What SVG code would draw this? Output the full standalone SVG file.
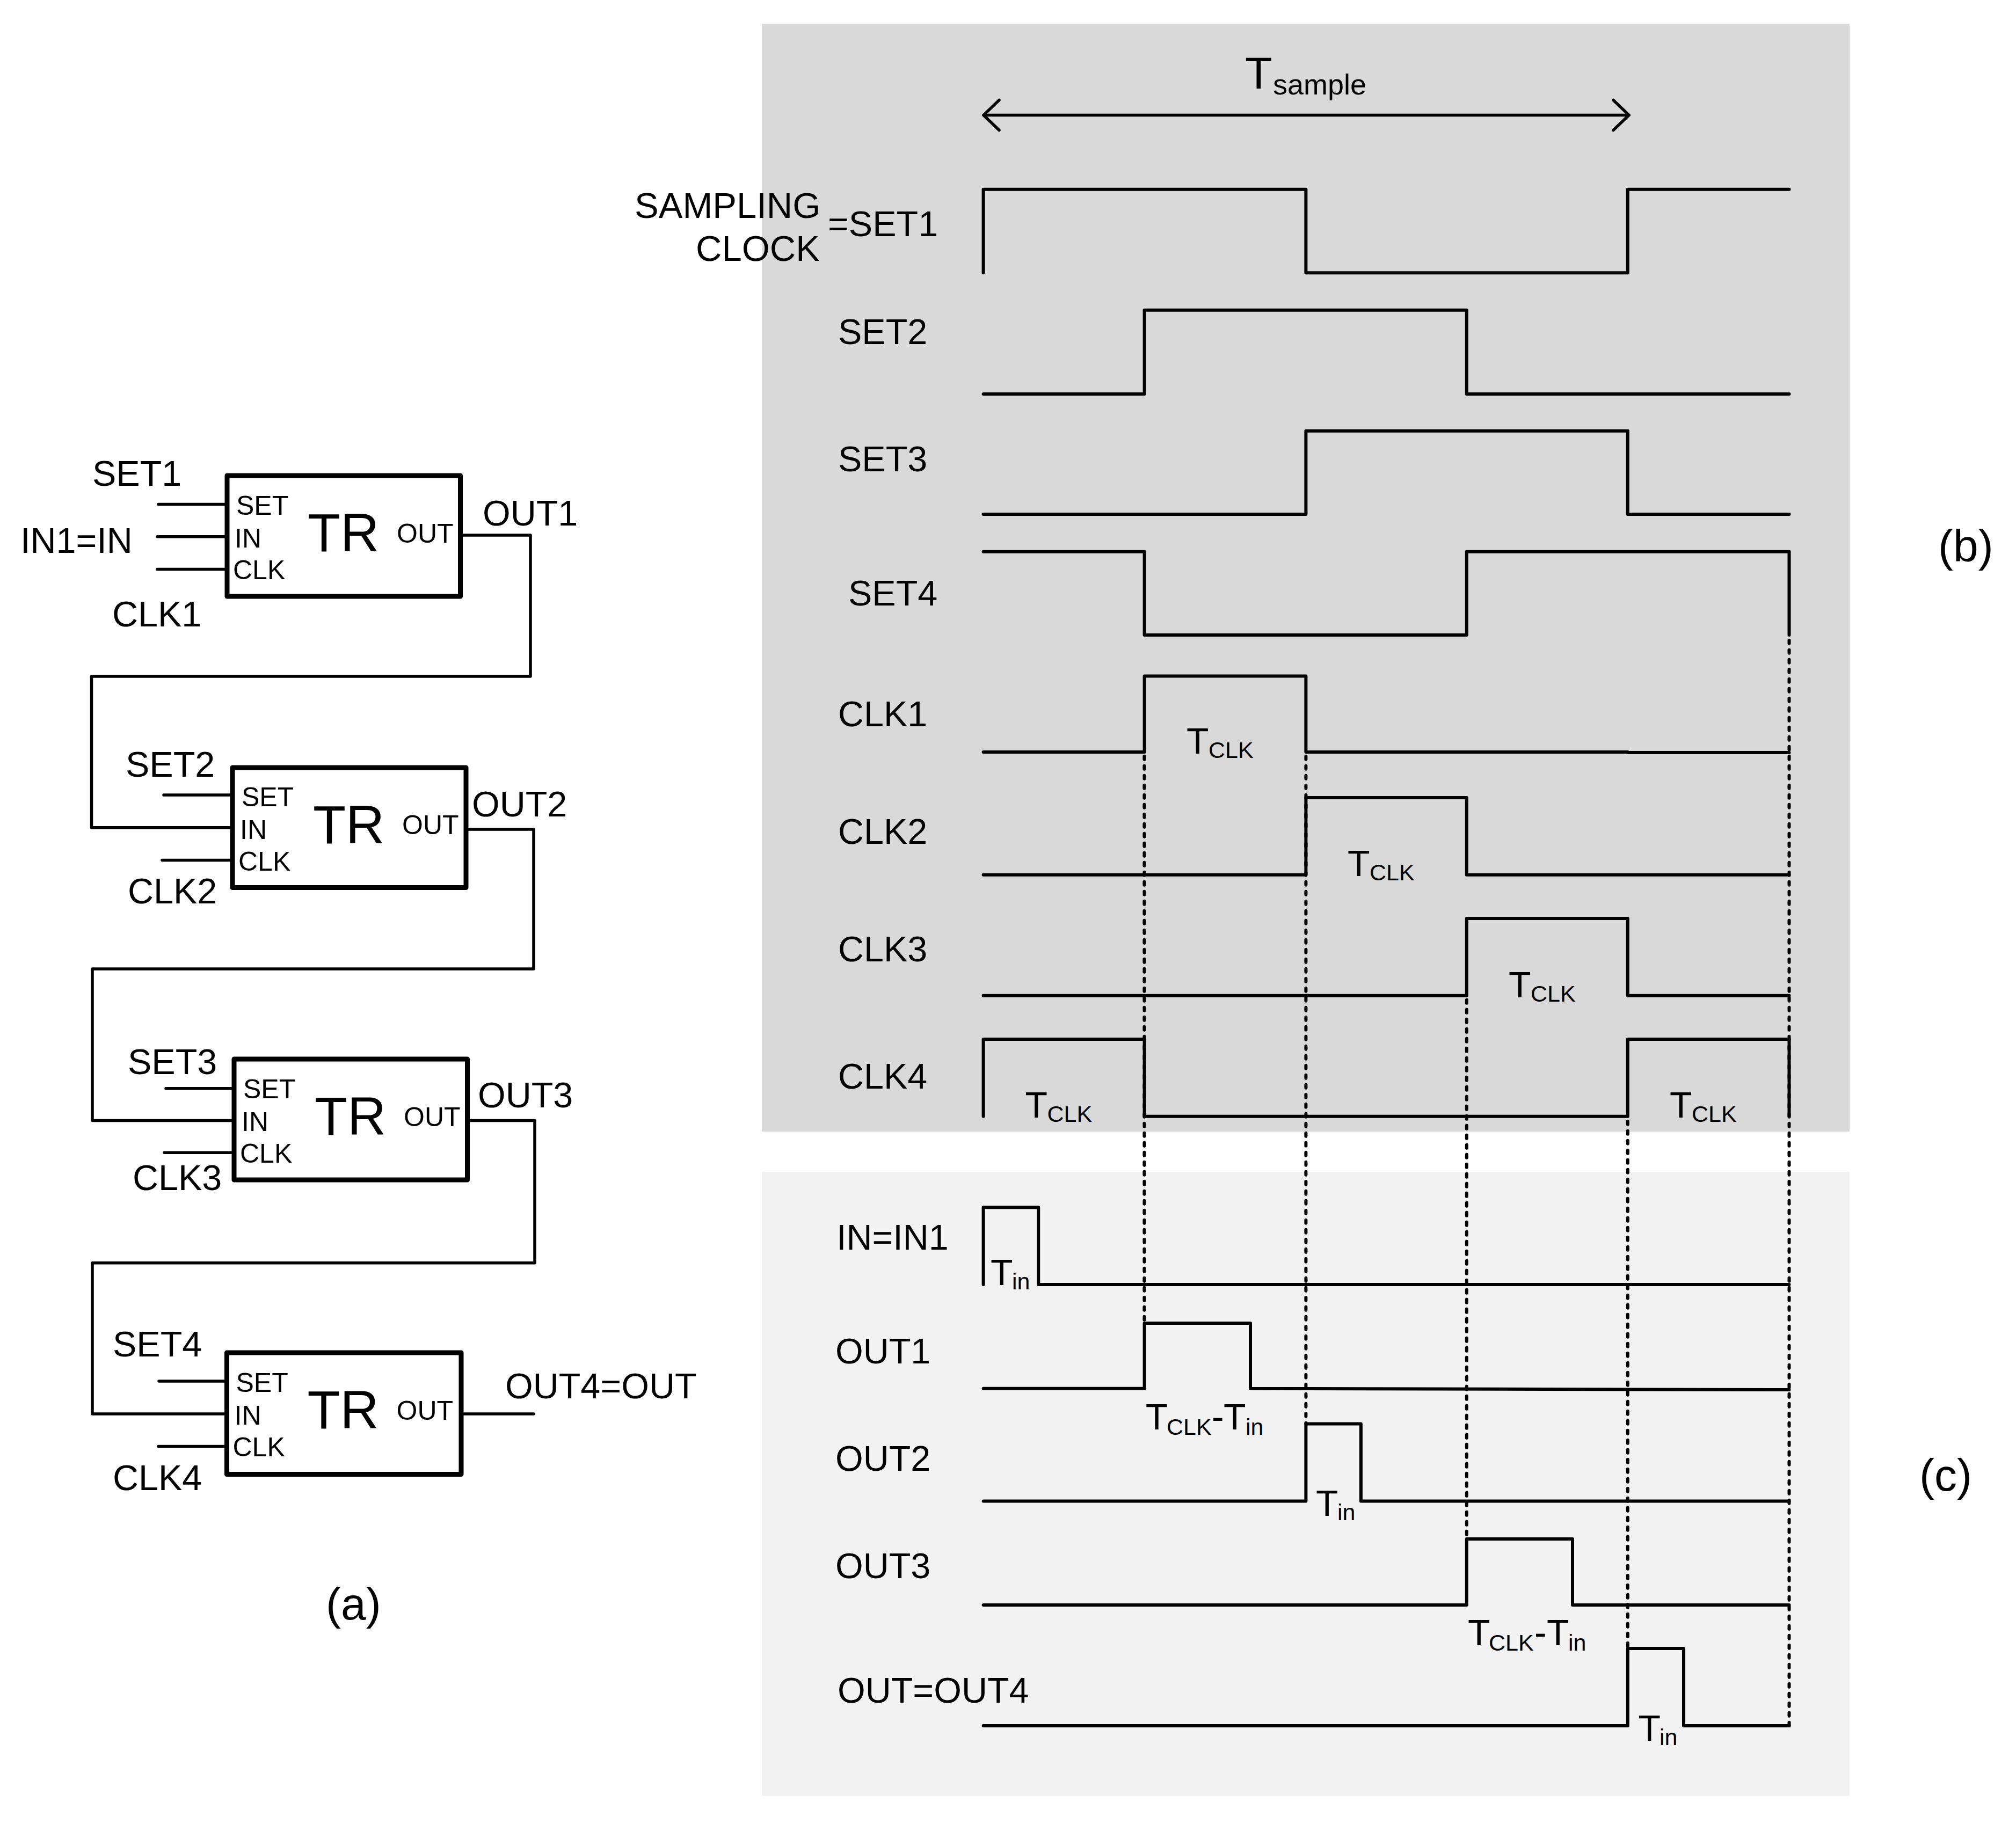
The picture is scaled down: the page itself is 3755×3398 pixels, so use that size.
<svg xmlns="http://www.w3.org/2000/svg" width="3755" height="3398" viewBox="0 0 3755 3398">
<style>
text{font-family:"Liberation Sans",Arial,sans-serif;fill:#000}
.l{font-size:66.5px}
.t{font-size:100px}
.p{font-size:50px}
.big{font-size:68px}
.sub{font-size:43px}
.cap{font-size:84px}
.box{fill:none;stroke:#000;stroke-width:9;stroke-linejoin:round}
.w{fill:none;stroke:#000;stroke-width:5.5;stroke-linecap:round;stroke-linejoin:round}
.s{fill:none;stroke:#000;stroke-width:6;stroke-linecap:round;stroke-linejoin:round}
.d{fill:none;stroke:#000;stroke-width:6;stroke-dasharray:6 12;stroke-linecap:round}
</style>
<defs>
<marker id="chev" markerUnits="userSpaceOnUse" viewBox="-40 -40 50 80" refX="0" refY="0" markerWidth="50" markerHeight="80" orient="auto-start-reverse" overflow="visible"><path d="M-29,-28 L0,0 L-29,28" fill="none" stroke="#000" stroke-width="5.5" stroke-linecap="round" stroke-linejoin="round"/></marker>
</defs>
<rect id="panel-b" x="1419" y="44.5" width="2026" height="2063.5" fill="#d9d9d9"/>
<rect id="panel-c" x="1419" y="2183" width="2026" height="1163" fill="#f2f2f2"/>

<g id="connectors">
<polyline class="w" points="857,997 988,997 988,1260 170.5,1260 170.5,1541.7 433,1541.7"/>
<polyline class="w" points="868,1545 994,1545 994,1805 172,1805 172,2087.5 436,2087.5"/>
<polyline class="w" points="870,2087.5 996,2087.5 996,2352.7 172,2352.7 172,2634 422,2634"/>
<line class="w" x1="859" y1="2634" x2="994" y2="2634"/>
<line class="w" x1="295" y1="939.5" x2="423" y2="939.5"/>
<line class="w" x1="293" y1="999.8" x2="423" y2="999.8"/>
<line class="w" x1="293" y1="1060.6" x2="423" y2="1060.6"/>
<line class="w" x1="305" y1="1481" x2="433" y2="1481"/>
<line class="w" x1="302" y1="1602.5" x2="433" y2="1602.5"/>
<line class="w" x1="309" y1="2027.7" x2="436" y2="2027.7"/>
<line class="w" x1="306" y1="2147.3" x2="436" y2="2147.3"/>
<line class="w" x1="296" y1="2573" x2="422" y2="2573"/>
<line class="w" x1="295" y1="2694.6" x2="422" y2="2694.6"/>
<line class="w" x1="1832" y1="214.5" x2="3034" y2="214.5" marker-start="url(#chev)" marker-end="url(#chev)"/>
<line class="d" x1="2131.4" y1="1408.7" x2="2131.4" y2="2465"/>
<line class="d" x1="2432.4" y1="1408.7" x2="2432.4" y2="2652.6"/>
<line class="d" x1="2731.8" y1="1862.7" x2="2731.8" y2="2866.9"/>
<line class="d" x1="3031.8" y1="2088.7" x2="3031.8" y2="3071"/>
<line class="d" x1="3332.5" y1="1192.7" x2="3332.5" y2="3215"/>
</g>

<g id="tr1" transform="translate(423,886)">
<rect class="box" width="434.5" height="225"/>
<text class="p" x="17" y="73">SET</text><text class="p" x="14" y="134">IN</text><text class="p" x="11" y="193">CLK</text><text class="p" x="316" y="125">OUT</text><text class="t" x="150" y="141">TR</text>
</g>
<g id="tr2" transform="translate(433,1430)">
<rect class="box" width="435" height="223.6"/>
<text class="p" x="17" y="72">SET</text><text class="p" x="14" y="133">IN</text><text class="p" x="11" y="192">CLK</text><text class="p" x="316" y="124">OUT</text><text class="t" x="150" y="141">TR</text>
</g>
<g id="tr3" transform="translate(436,1973)">
<rect class="box" width="434.5" height="225"/>
<text class="p" x="17" y="73">SET</text><text class="p" x="14" y="134">IN</text><text class="p" x="11" y="193">CLK</text><text class="p" x="316" y="125">OUT</text><text class="t" x="150" y="141">TR</text>
</g>
<g id="tr4" transform="translate(422.5,2520)">
<rect class="box" width="436.5" height="226.5"/>
<text class="p" x="17" y="73">SET</text><text class="p" x="14" y="134">IN</text><text class="p" x="11" y="193">CLK</text><text class="p" x="316" y="125">OUT</text><text class="t" x="150" y="141">TR</text>
</g>

<g id="labels-a">
<text class="l" x="172" y="904.5">SET1</text>
<text class="l" x="38" y="1029.6">IN1=IN</text>
<text class="l" x="209" y="1167.4">CLK1</text>
<text class="l" x="899" y="979">OUT1</text>
<text class="l" x="234" y="1447">SET2</text>
<text class="l" x="238" y="1683">CLK2</text>
<text class="l" x="879" y="1521">OUT2</text>
<text class="l" x="238" y="2001">SET3</text>
<text class="l" x="247" y="2217">CLK3</text>
<text class="l" x="890" y="2063.4">OUT3</text>
<text class="l" x="210" y="2526.8">SET4</text>
<text class="l" x="210" y="2776">CLK4</text>
<text class="l" x="941" y="2605">OUT4=OUT</text>
<text class="cap" x="607" y="3017">(a)</text>
</g>

<g id="signals-b">
<polyline class="s" id="set1" points="1831.6,508.2 1831.6,352.8 2432.4,352.8 2432.4,508.2 3031.8,508.2 3031.8,352.8 3332.5,352.8"/>
<polyline class="s" id="set2" points="1831.6,733.9 2131.6,733.9 2131.6,577.8 2731.8,577.8 2731.8,733.9 3332.5,733.9"/>
<polyline class="s" id="set3" points="1831.6,958 2432.4,958 2432.4,802.8 3031.8,802.8 3031.8,958 3332.5,958"/>
<polyline class="s" id="set4" points="1831.6,1027.8 2131.6,1027.8 2131.6,1183 2731.8,1183 2731.8,1027.8 3332.5,1027.8 3332.5,1183"/>
<polyline class="s" id="clk1" points="1831.6,1401 2131.6,1401 2131.6,1259.4 2432.4,1259.4 2432.4,1401 3031.8,1401 3031.8,1402 3332.5,1402"/>
<polyline class="s" id="clk2" points="1831.6,1629.8 2432.4,1629.8 2432.4,1486 2731.8,1486 2731.8,1629.8 3332.5,1629.8"/>
<polyline class="s" id="clk3" points="1831.6,1854.8 2731.8,1854.8 2731.8,1711 3031.8,1711 3031.8,1854.8 3332.5,1854.8"/>
<polyline class="s" id="clk4" points="1831.6,2079.8 1831.6,1936 2131.6,1936 2131.6,2079.8 3031.8,2079.8 3031.8,1936 3332.5,1936 3332.5,2079.8"/>
</g>
<g id="signals-c">
<polyline class="s" id="in" points="1831.6,2393 1831.6,2249.3 1934.2,2249.3 1934.2,2393 3332.5,2393"/>
<polyline class="s" id="out1" points="1831.6,2586.8 2131.6,2586.8 2131.6,2465 2329,2465 2329,2586.8 3332.5,2589"/>
<polyline class="s" id="out2" points="1831.6,2796.4 2432.4,2796.4 2432.4,2652.6 2534.9,2652.6 2534.9,2796.4 3332.5,2796.4"/>
<polyline class="s" id="out3" points="1831.6,2990 2731.8,2990 2731.8,2866.9 2929,2866.9 2929,2990 3332.5,2990"/>
<polyline class="s" id="out4" points="1831.6,3215 3031.8,3215 3031.8,3071 3136,3071 3136,3215 3332.5,3215"/>
</g>

<g id="labels-b">
<text x="2319" y="164.5" font-size="83">T<tspan font-size="54" x="2371" y="176">sample</tspan></text>
<text class="l" x="1182" y="406" style="font-size:67px">SAMPLING</text>
<text class="l" x="1296" y="485.6" style="font-size:67px">CLOCK</text>
<text class="l" x="1542" y="440">=SET1</text>
<text class="l" x="1561" y="640.5">SET2</text>
<text class="l" x="1561" y="877.8">SET3</text>
<text class="l" x="1580" y="1127.8">SET4</text>
<text class="l" x="1561" y="1352.8">CLK1</text>
<text class="l" x="1561" y="1571.7">CLK2</text>
<text class="l" x="1561" y="1790.5">CLK3</text>
<text class="l" x="1561" y="2027.8">CLK4</text>
<text class="big" x="2210" y="1404">T<tspan class="sub" x="2251" y="1412">CLK</tspan></text>
<text class="big" x="2510" y="1632">T<tspan class="sub" x="2551" y="1640">CLK</tspan></text>
<text class="big" x="2810" y="1858">T<tspan class="sub" x="2851" y="1866">CLK</tspan></text>
<text class="big" x="1909.5" y="2082">T<tspan class="sub" x="1950.5" y="2090">CLK</tspan></text>
<text class="big" x="3110" y="2082">T<tspan class="sub" x="3151" y="2090">CLK</tspan></text>
<text class="cap" x="3610" y="1046">(b)</text>
</g>
<g id="labels-c">
<text class="l" x="1558" y="2328">IN=IN1</text>
<text class="l" x="1556" y="2540">OUT1</text>
<text class="l" x="1556" y="2740">OUT2</text>
<text class="l" x="1556" y="2939.6">OUT3</text>
<text class="l" x="1560" y="3172">OUT=OUT4</text>
<text class="big" x="1845" y="2394">T<tspan class="sub" x="1885" y="2402">in</tspan></text>
<text class="big" x="2451" y="2824">T<tspan class="sub" x="2491" y="2832">in</tspan></text>
<text class="big" x="3051.4" y="3242.6">T<tspan class="sub" x="3091" y="3251">in</tspan></text>
<text class="big" x="2133.7" y="2662.5">T<tspan class="sub" x="2173" y="2672.5">CLK</tspan><tspan x="2257" y="2662.5">-</tspan><tspan x="2279" y="2662.5">T</tspan><tspan class="sub" x="2320" y="2672.5">in</tspan></text>
<text class="big" x="2734" y="3065">T<tspan class="sub" x="2773" y="3075">CLK</tspan><tspan x="2858" y="3065">-</tspan><tspan x="2881" y="3065">T</tspan><tspan class="sub" x="2921" y="3075">in</tspan></text>
<text class="cap" x="3575" y="2777">(c)</text>
</g>
</svg>
